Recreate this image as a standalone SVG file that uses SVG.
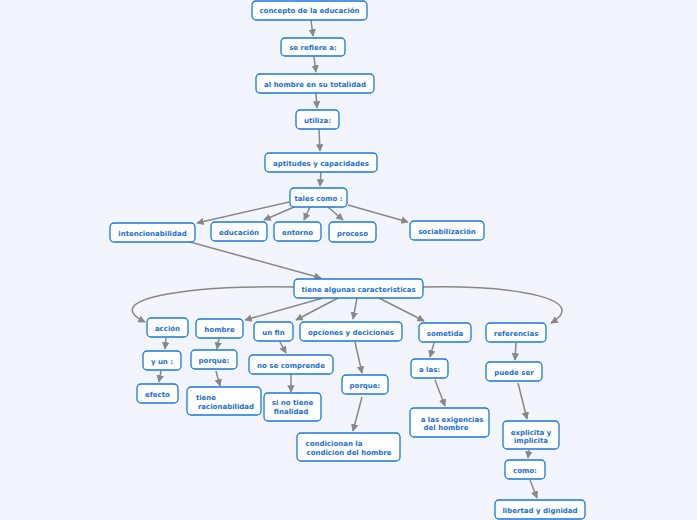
<svg xmlns="http://www.w3.org/2000/svg" width="697" height="520" viewBox="0 0 697 520">
<style>
.n rect{fill:#fff;stroke:#1a78dd;stroke-width:1.3}
.n text{font-family:"DejaVu Sans",sans-serif;font-weight:bold;font-size:7px;fill:#1a6fd0;text-anchor:middle}
.c path{fill:none;stroke:#888;stroke-width:1.5;marker-end:url(#a)}
</style>
<defs><marker id="a" viewBox="0 0 10 10" refX="9" refY="5" markerWidth="5" markerHeight="5" orient="auto"><path d="M0,0L10,5L0,10z" fill="#888"/></marker></defs>
<rect width="697" height="520" fill="#f2f5fd"/>
<g class="c">
<path d="M311,20L313,36"/><path d="M314,57L316,72"/><path d="M316,93L317,108"/><path d="M319,129L320,151"/><path d="M321,172L320,186"/>
<path d="M289,202L197,223"/><path d="M294,207L264,220"/><path d="M310,207L304,220"/><path d="M328,207L343,220"/><path d="M348,205L408,222"/>
<path d="M190,242L321,278"/>
<path d="M294,287C180,285 100,300 145,322"/>
<path d="M423,287C520,285 590,300 551,323"/>
<path d="M323,298L245,320"/><path d="M338,298L296,320"/><path d="M357,298L353,319"/><path d="M379,298L424,321"/>
<path d="M166,338L165,349"/><path d="M219,339L217,349"/><path d="M280,342L286,353"/><path d="M434,343L430,357"/><path d="M516,343L515,360"/>
<path d="M161,371L159,382"/><path d="M216,371L220,386"/><path d="M291,374L291,392"/><path d="M355,342L362,373"/><path d="M435,380L445,406"/><path d="M518,383L527,419"/>
<path d="M362,397L353,431"/><path d="M529,450L528,458"/><path d="M530,480L537,498"/>
</g>
<g id="n1" class="n"><rect x="252" y="1" width="115" height="19" rx="4"/><text x="309.5" y="13">concepto de la educación</text></g>
<g id="n2" class="n"><rect x="281" y="38" width="64" height="18" rx="4"/><text x="313" y="50">se refiere a:</text></g>
<g id="n3" class="n"><rect x="256" y="74" width="118" height="19" rx="4"/><text x="315" y="87">al hombre en su totalidad</text></g>
<g id="n4" class="n"><rect x="296" y="110" width="43" height="19" rx="4"/><text x="317.5" y="123">utiliza:</text></g>
<g id="n5" class="n"><rect x="265" y="153" width="112" height="19" rx="4"/><text x="321" y="166">aptitudes y capacidades</text></g>
<g id="n6" class="n"><rect x="290" y="188" width="57" height="19" rx="4"/><text x="318.5" y="201">tales como :</text></g>
<g id="n7" class="n"><rect x="110" y="223" width="85" height="19" rx="4"/><text x="152.5" y="236">intencionabilidad</text></g>
<g id="n8" class="n"><rect x="211" y="222" width="56" height="19" rx="4"/><text x="239" y="235">educación</text></g>
<g id="n9" class="n"><rect x="274" y="222" width="47" height="19" rx="4"/><text x="297.5" y="235">entorno</text></g>
<g id="n10" class="n"><rect x="329" y="222" width="47" height="20" rx="4"/><text x="352.5" y="236">proceso</text></g>
<g id="n11" class="n"><rect x="410" y="221" width="74" height="19" rx="4"/><text x="447" y="234">sociabilización</text></g>
<g id="n12" class="n"><rect x="294" y="279" width="129" height="19" rx="4"/><text x="358.5" y="292">tiene algunas caracteristicas</text></g>
<g id="n13" class="n"><rect x="147" y="318" width="41" height="19" rx="4"/><text x="167.5" y="331">acción</text></g>
<g id="n14" class="n"><rect x="196" y="319" width="47" height="19" rx="4"/><text x="219.5" y="332">hombre</text></g>
<g id="n15" class="n"><rect x="254" y="322" width="39" height="19" rx="4"/><text x="273.5" y="335">un fin</text></g>
<g id="n16" class="n"><rect x="300" y="322" width="102" height="19" rx="4"/><text x="351" y="335">opciones y deciciones</text></g>
<g id="n17" class="n"><rect x="419" y="323" width="52" height="19" rx="4"/><text x="445" y="336">sometida</text></g>
<g id="n18" class="n"><rect x="486" y="323" width="60" height="19" rx="4"/><text x="516" y="336">referencias</text></g>
<g id="n19" class="n"><rect x="143" y="351" width="38" height="19" rx="4"/><text x="162" y="364">y un :</text></g>
<g id="n20" class="n"><rect x="191" y="350" width="46" height="19" rx="4"/><text x="214" y="363">porque:</text></g>
<g id="n21" class="n"><rect x="249" y="355" width="84" height="19" rx="4"/><text x="291" y="368">no se comprende</text></g>
<g id="n22" class="n"><rect x="342" y="375" width="46" height="19" rx="4"/><text x="365" y="388">porque:</text></g>
<g id="n23" class="n"><rect x="411" y="359" width="37" height="19" rx="4"/><text x="429.5" y="372">a las:</text></g>
<g id="n24" class="n"><rect x="486" y="362" width="56" height="19" rx="4"/><text x="514" y="375">puede ser</text></g>
<g id="n25" class="n"><rect x="137" y="384" width="41" height="19" rx="4"/><text x="157.5" y="397">efecto</text></g>
<g id="n26" class="n"><rect x="187" y="387" width="74" height="28" rx="4"/><text x="224" y="400"><tspan x="206">tiene</tspan><tspan x="226" dy="9">racionabilidad</tspan></text></g>
<g id="n27" class="n"><rect x="264" y="393" width="57" height="28" rx="4"/><text x="292.5" y="405">si no tiene<tspan x="291" dy="9">finalidad</tspan></text></g>
<g id="n28" class="n"><rect x="410" y="408" width="79" height="29" rx="4"/><text x="452" y="422">a las exigencias<tspan x="446" dy="8">del hombre</tspan></text></g>
<g id="n29" class="n"><rect x="503" y="421" width="56" height="28" rx="4"/><text x="531" y="435">explicita y<tspan x="531" dy="8">implicita</tspan></text></g>
<g id="n30" class="n"><rect x="297" y="433" width="103" height="28" rx="4"/><text x="334" y="446">condicionan la<tspan x="349" dy="9">condicion del hombre</tspan></text></g>
<g id="n31" class="n"><rect x="505" y="460" width="40" height="19" rx="4"/><text x="525" y="473">como:</text></g>
<g id="n32" class="n"><rect x="495" y="500" width="90" height="19" rx="4"/><text x="540" y="513">libertad y dignidad</text></g>
</svg>
